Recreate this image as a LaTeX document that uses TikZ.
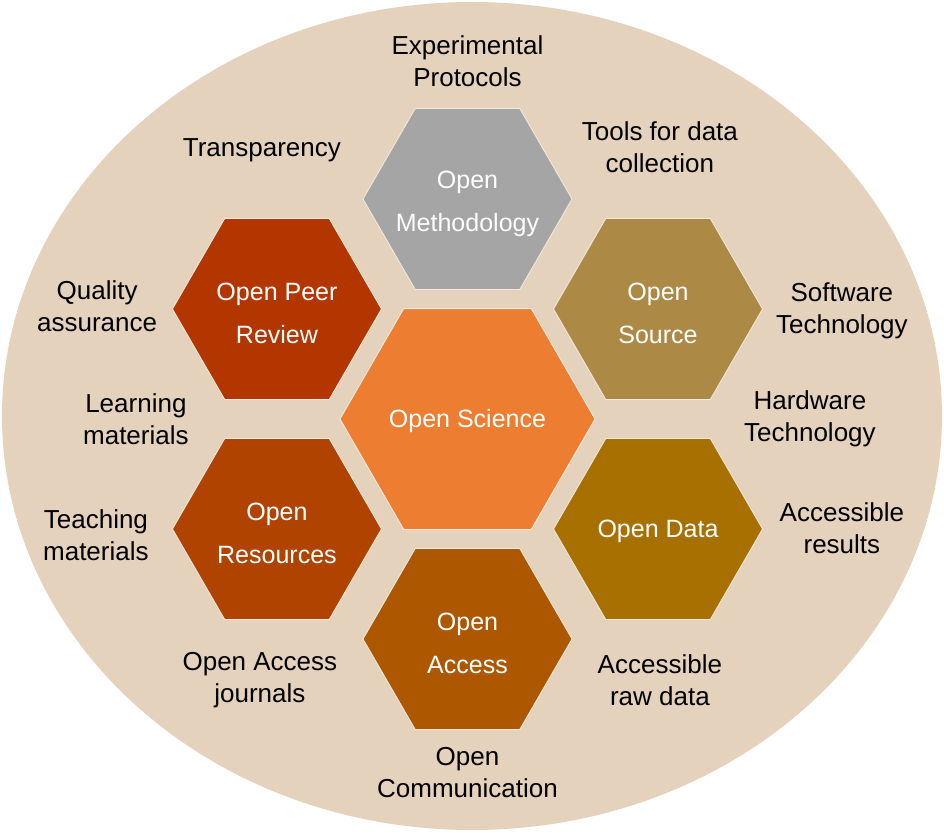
\documentclass[tikz,border=0pt]{standalone}
\usepackage{fontspec}
\setmainfont{Liberation Sans}
\usetikzlibrary{shapes.geometric}

\definecolor{bgtan}{HTML}{E4D2BD}
\definecolor{hexline}{HTML}{F3EADF}
\definecolor{science}{HTML}{ED7D31}
\definecolor{method}{HTML}{A5A5A5}
\definecolor{peer}{HTML}{B33500}
\definecolor{source}{HTML}{AC8A46}
\definecolor{resource}{HTML}{B04300}
\definecolor{data}{HTML}{A87000}
\definecolor{access}{HTML}{AD5700}

\begin{document}
\begin{tikzpicture}[hex/.style={regular polygon, regular polygon sides=6, minimum size=5.225cm, inner sep=0pt, draw=hexline, line width=0.6pt}, hexname/.style={text=white, align=center, yshift=-0.12cm, font=\fontsize{17.8}{30.5}\selectfont}, topic/.style={align=center, font=\fontsize{18.5}{22.8}\selectfont}]
  \useasboundingbox (-11.6875,-10.325) rectangle (11.9125,10.475);
  \fill[bgtan] (0.1125,0.075) ellipse [x radius=11.75, y radius=10.35];
  % hexagons
  \node[hex, fill=science, minimum size=6.375cm, label={[hexname, yshift=0.06cm]center:Open Science}] (sci) at (0,0) {};
  \node[hex, fill=method, label={[hexname]center:Open\\Methodology}] (meth) at (90:5.5) {};
  \node[hex, fill=peer, label={[hexname]center:Open Peer\\Review}] (peer) at (150:5.5) {};
  \node[hex, fill=source, label={[hexname]center:Open\\Source}] (src) at (30:5.5) {};
  \node[hex, fill=resource, label={[hexname]center:Open\\Resources}] (res) at (210:5.5) {};
  \node[hex, fill=data, label={[hexname, yshift=0.06cm]center:Open Data}] (dat) at (330:5.5) {};
  \node[hex, fill=access, label={[hexname]center:Open\\Access}] (acc) at (270:5.5) {};
  % topics
  \node[topic] (protocols) at (0, 8.95) {Experimental\\Protocols};
  \node[topic] (transp) at (-5.14, 6.725) {Transparency};
  \node[topic] (tools) at (4.81, 6.79) {Tools for data\\collection};
  \node[topic] (quality) at (-9.26, 2.825) {Quality\\assurance};
  \node[topic] (software) at (9.36, 2.7) {Software\\Technology};
  \node[topic] (learning) at (-8.29, 0) {Learning\\materials};
  \node[topic] (hardware) at (8.56, 0.01) {Hardware\\Technology};
  \node[topic] (teaching) at (-9.29, -2.9) {Teaching\\materials};
  \node[topic] (results) at (9.36, -2.725) {Accessible\\results};
  \node[topic] (journals) at (-5.19, -6.525) {Open Access\\journals};
  \node[topic] (rawdata) at (4.81, -6.525) {Accessible\\raw data};
  \node[topic] (comm) at (0, -8.85) {Open\\Communication};
\end{tikzpicture}
\end{document}
